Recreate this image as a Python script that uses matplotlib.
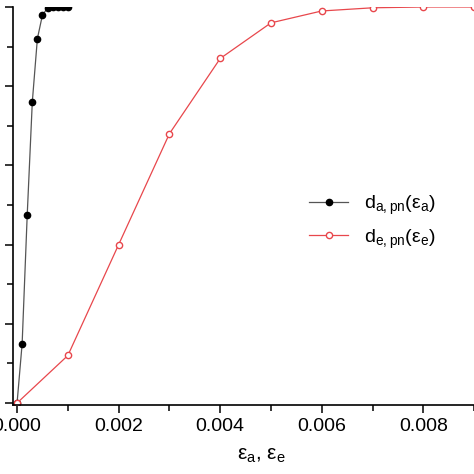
import matplotlib
matplotlib.use("Agg")
import matplotlib.pyplot as plt
from matplotlib.ticker import MultipleLocator

plt.rcParams['font.family'] = ['Liberation Sans', 'DejaVu Sans']
plt.rcParams['mathtext.fontset'] = 'custom'
plt.rcParams['mathtext.rm'] = 'Liberation Sans'

xa = [0, 0.0001, 0.0002, 0.0003, 0.0004, 0.0005, 0.0006, 0.0007, 0.0008, 0.0009, 0.001]
da = [0, 0.15, 0.475, 0.76, 0.92, 0.98, 0.997, 1.0, 1.0, 1.0, 1.0]
xe = [0, 0.001, 0.002, 0.003, 0.004, 0.005, 0.006, 0.007, 0.008, 0.009]
de = [0, 0.12, 0.40, 0.68, 0.87, 0.96, 0.99, 0.998, 1.0, 1.0]

fig = plt.figure(figsize=(4.74, 4.74), dpi=100)
ax = fig.add_axes([13/474, 69/474, 1.05, 398/474])
ax.plot(xa, da, color='#555555', lw=0.9, marker='o', ms=4.5, mfc='black', mec='black',
        label=r'd$_{\mathrm{a,pn}}$(ε$_\mathrm{a}$)')
ax.plot(xe, de, color='#e8474c', lw=0.9, marker='o', ms=4.5, mfc='white', mec='#e8474c',
        label=r'd$_{\mathrm{e,pn}}$(ε$_\mathrm{e}$)')
ax.set_xlim(-0.00008, 0.00972)
ax.set_ylim(-0.005, 1.0)
ax.spines['right'].set_visible(False)
ax.spines['top'].set_visible(False)
for s in ax.spines.values():
    s.set_linewidth(1.2)
ax.xaxis.set_major_locator(MultipleLocator(0.002))
ax.xaxis.set_minor_locator(MultipleLocator(0.001))
ax.yaxis.set_major_locator(MultipleLocator(0.2))
ax.yaxis.set_minor_locator(MultipleLocator(0.1))
ax.tick_params(which='both', direction='out', width=1.1, labelsize=14)
ax.tick_params(which='major', length=6)
ax.tick_params(which='minor', length=4)
ax.tick_params(axis='y', labelleft=False)
ax.xaxis.set_major_formatter(matplotlib.ticker.FormatStrFormatter('%.3f'))
ax.set_xlabel(r'ε$_\mathrm{a}$, ε$_\mathrm{e}$', fontsize=15, labelpad=8)
ax.legend(loc='upper left', bbox_to_anchor=(0.58, 0.55), frameon=False, fontsize=14,
          handlelength=2.0, borderaxespad=0)
fig.savefig('out.png', dpi=100)
